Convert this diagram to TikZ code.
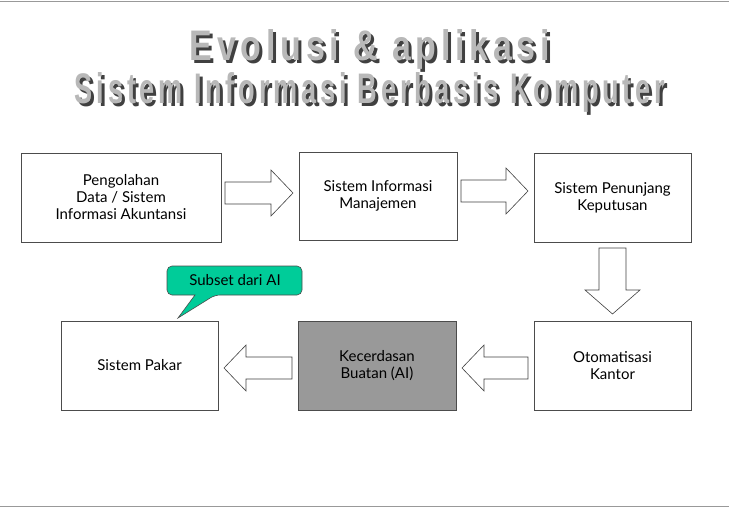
\documentclass[tikz,border=0pt]{standalone}
\usepackage{fontspec}
\usepackage{graphicx}
\setmainfont{Lato}
\newfontfamily\titlefont[LetterSpace=14]{Liberation Sans}
\begin{document}
\begin{tikzpicture}[x=1pt,y=-1pt,
  box/.style={draw=black!70,fill=white,line width=0.6pt,inner sep=0pt,align=center,font=\fontsize{15}{17}\selectfont},
  barrow/.style={draw=black!75,fill=white,line width=0.6pt},
  ttl/.style={inner sep=0pt}]
\path[use as bounding box] (0,0) rectangle (729,508);
\draw[black!40] (0,1) -- (729,1);
\draw[black!40] (0,506) -- (729,506);
% title
\foreach \t/\y/\w in {{Evolusi \& aplikasi}/49/360,{Sistem Informasi Berbasis Komputer}/92/590}{
  \node[ttl,text=black!75] at (373,\y+3) {\resizebox{\w pt}{31pt}{\titlefont\bfseries \t}};
  \node[ttl,text=black!28] at (370,\y) {\resizebox{\w pt}{31pt}{\titlefont\bfseries \t}};
}
% boxes
\node[box,minimum width=200,minimum height=89] (a) at (121,197.5) {Pengolahan\\Data / Sistem\\Informasi Akuntansi};
\node[box,minimum width=158,minimum height=88] (b) at (378,196) {Sistem Informasi\\Manajemen};
\node[box,minimum width=157,minimum height=89] (c) at (612.5,197.5) {Sistem Penunjang\\Keputusan};
\node[box,minimum width=157,minimum height=89] (d) at (612.5,365.5) {Otomatisasi\\Kantor};
\node[box,fill=black!40,minimum width=158,minimum height=89] (e) at (377,365.5) {Kecerdasan\\Buatan (AI)};
\node[box,minimum width=157,minimum height=89] (f) at (139.5,365.5) {Sistem Pakar};
% block arrows
\newcommand{\rarr}[3]{%
  \draw[barrow] (#1,#3-11) -- (#2-22,#3-11) -- (#2-22,#3-23) -- (#2,#3) -- (#2-22,#3+23) -- (#2-22,#3+11) -- (#1,#3+11) -- cycle;}
\newcommand{\larr}[3]{%
  \draw[barrow] (#2,#3-11) -- (#1+22,#3-11) -- (#1+22,#3-23) -- (#1,#3) -- (#1+22,#3+23) -- (#1+22,#3+11) -- (#2,#3+11) -- cycle;}
\rarr{225}{293}{193}
\rarr{461}{528}{191}
\larr{462}{528}{368}
\larr{224}{292}{368}
\draw[barrow] (599,248) -- (626,248) -- (626,290) -- (640,290) -- (612.5,314) -- (585,290) -- (599,290) -- cycle;
% callout
\path[draw=black!70,line width=0.6pt,fill={rgb,255:red,0;green,204;blue,153},rounded corners=5]
  (167,266) -- (302,266) -- (302,295) -- (215,295) [sharp corners]-- (178,318) -- (195,295) [rounded corners=5]-- (167,295) -- cycle;
\node[font=\fontsize{15}{17}\selectfont,inner sep=0pt] (s) at (235,280) {Subset dari AI};
\end{tikzpicture}
\end{document}
